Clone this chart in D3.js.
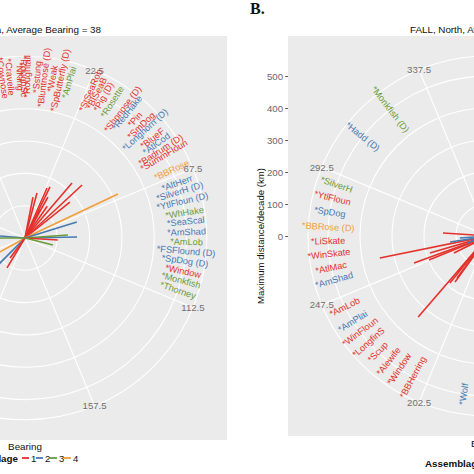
<!DOCTYPE html>
<html>
<head>
<meta charset="utf-8">
<script src="https://cdn.jsdelivr.net/npm/d3@7"></script>
<style>
body{margin:0;background:#fff}
svg{display:block;font-family:"Liberation Sans",Arial,sans-serif}
</style>
</head>
<body>
<svg id="fig" width="474" height="474"></svg>
<script>
// ---- shared scales / ticks ----
var thetaBreaks=[22.5,67.5,112.5,157.5,202.5,247.5,292.5,337.5]
var rBreaks=[0,100,200,300,400,500]
var assemblages=[1,2,3,4]
var assemblageColors=["#E4312B","#4679B2","#6B9B3A","#F29E38"]

// ---- left panel: [bearing, max distance km, assemblage] ----
var leftLines=[
  [11,129,1],[14.9,144,1],[23.7,169,1],[26.1,176,1],[29.3,145,1],
  [40.5,224,1],[47.1,241,1],[51.3,178,1],[28.2,98,1],[35,120,1],
  [64.7,318,4],[72.9,168,2],[88.9,161,2],[86,133,3],[93.5,102,1],
  [104,89,3],[241,124,4],[225,139,2],[211,108,1],[216.9,77,1],
  [274.6,140,2],[270,125,3]
]
// [label, bearing, assemblage]
var leftLabels=[
  ["*Cownose",352,1],["*Cravelle",354.6,1],["*NKing",358.2,1],["*RoughSc",359.6,1],
  ["*Roughtail",0.8,1],["*Sstung",4.3,1],["*Bluntnose (D)",6.8,1],["*Weak",9.8,1],
  ["*SpButterfly (D)",12.6,1],["*AmPlai",15.8,3],["*StSeaRob",24,1],["*BlSeaB",26.4,1],
  ["*Pig (D)",29.1,1],["*Rosette",32.7,3],["*Shpnose (D)",37.2,1],["*RedHake",39.2,2],
  ["*Pin",42.9,1],["*SmDog",46,1],["*Longhorn (D)",48,2],["*BlueF",52,1],
  ["*AtlCod",54.4,2],["*Badrum (D)",57.1,1],["*SummFloun",59.3,1],["*BBRose",65.2,4],
  ["*AltHerr",70.2,2],["*SilverH (D)",73.3,2],["*YtlFloun (D)",76.9,2],["*WhHake",81,3],
  ["*SeaScal",84.2,2],["*AmShad",87.9,2],["*AmLob",91.4,3],["*FSFlound (D)",94.7,2],
  ["*SpDog (D)",98.2,2],["*Window",101.9,1],["*Monkfish",105.2,3],["*Thorney",108.9,3]
]

// ---- right panel (FALL, North) ----
var rightLines=[
  [273.8,141,1],[258.5,345,1],[250,246,1],[247.9,199,1],[243.4,119,1],
  [253.7,189,1],[220.8,334,1],[219,189,1],[215.6,177,1],[216.4,163,1],
  [219.8,147,1],[251.6,69,2],[266,88,2],[261,120,2]
]
var rightLabels=[
  ["*Wolf",188.7,2],["*BBHerring",208,1],["*Window",213.7,1],["*Alewife",218.4,1],
  ["*Scup",223.5,1],["*LongfinS",228.3,1],["*WinFloun",233.1,1],["*AmPlai",237.7,2],
  ["*AmLob",243.6,1],["*AmShad",254,2],["*AtlMac",258.5,1],["*WinSkate",263.5,1],
  ["*LiSkate",268.2,1],["*BBRose (D)",273.2,4],["*SpDog",278.6,2],["*YtlFloun",283.7,1],
  ["*SilverH",288.7,3],["*Hadd (D)",308.4,2],["*Monkfish (D)",322.3,3]
]

var color=d3.scaleOrdinal().domain(assemblages).range(assemblageColors)
var svg=d3.select("#fig")

function rad(b){ return b*Math.PI/180 }

function drawPanel(p)
{
  var size=p.size, cx=p.cx, cy=p.cy
  var r=d3.scaleLinear().domain([0,500]).range([0,0.4*size])
  var outer=0.45*size

  svg.append("clipPath").attr("id",p.id+"clip")
    .append("rect").attr("x",cx-size/2).attr("y",cy-size/2).attr("width",size).attr("height",size)

  var g=svg.append("g").attr("clip-path","url(#"+p.id+"clip)")
  g.append("rect").attr("x",cx-size/2).attr("y",cy-size/2).attr("width",size).attr("height",size)
    .attr("fill","#EBEBEB")

  var pg=g.append("g").attr("transform","translate("+cx+","+cy+")")

  // circles for r breaks + the outer one at 0.45
  pg.selectAll("circle.grid").data(rBreaks.map(r).concat([outer])).join("circle")
    .attr("class","grid").attr("r",function(d){return d})
    .attr("fill","none").attr("stroke","#fff").attr("stroke-width",1.1)

  // spokes
  pg.selectAll("line.spoke").data(thetaBreaks).join("line")
    .attr("class","spoke")
    .attr("x1",0).attr("y1",0)
    .attr("x2",function(d){return outer*Math.sin(rad(d))})
    .attr("y2",function(d){return -outer*Math.cos(rad(d))})
    .attr("stroke","#fff").attr("stroke-width",1.1)

  // segments from origin to max distance
  var radial=d3.lineRadial().angle(function(d){return rad(d[0])}).radius(function(d){return r(d[1])})
  pg.selectAll("path.seg").data(p.lines).join("path")
    .attr("class","seg")
    .attr("d",function(d){return radial([[d[0],0],[d[0],d[1]]])})
    .attr("stroke",function(d){return color(d[2])})
    .attr("stroke-width",1.6).attr("fill","none")

  // species labels, centred at r = 500
  pg.selectAll("text.sp").data(p.labels).join("text")
    .attr("class","sp")
    .attr("transform",function(d){
      var b=d[1], x=r(500)*Math.sin(rad(b)), y=-r(500)*Math.cos(rad(b))
      var a=(b%360)<180 ? b-90 : b-270
      return "translate("+x+","+y+") rotate("+a+")"
    })
    .attr("text-anchor","middle").attr("dominant-baseline","central")
    .attr("font-size","9.2px")
    .attr("fill",function(d){return color(d[2])})
    .text(function(d){return d[0]})

  // theta tick labels
  pg.selectAll("text.th").data(thetaBreaks).join("text")
    .attr("class","th")
    .attr("x",function(d){return outer*Math.sin(rad(d))})
    .attr("y",function(d){return -outer*Math.cos(rad(d))})
    .attr("text-anchor","middle").attr("dominant-baseline","central")
    .attr("font-size","9.6px").attr("fill","#707070")
    .text(function(d){return d})

  // y axis (distance) on the left of the panel
  var yScale=d3.scaleLinear().domain([0,500]).range([cy,cy-0.4*size])
  var ax=svg.append("g").attr("transform","translate("+(cx-size/2)+",0)")
    .call(d3.axisLeft(yScale).tickValues(rBreaks).tickSize(3).tickPadding(2))
  ax.select(".domain").remove()
  ax.selectAll("line").attr("stroke","#666")
  ax.selectAll("text").attr("fill","#666").attr("font-size","9.6px")
    .attr("font-family","Liberation Sans, Arial, sans-serif")

  svg.append("text").attr("transform","translate("+(cx-size/2-24)+","+cy+") rotate(-90)")
    .attr("text-anchor","middle").attr("font-size","9.6px").attr("fill","#111")
    .text("Maximum distance/decade (km)")

  svg.append("text").attr("x",cx).attr("y",p.xTitleY)
    .attr("text-anchor","middle").attr("font-size","9.8px").attr("fill","#111")
    .text("Bearing")

  svg.append("text").attr("x",p.titleX).attr("y",33)
    .attr("text-anchor",p.titleAnchor).attr("font-size","9.8px").attr("fill","#111")
    .text(p.title)

  // legend: title then four keys
  var lg=svg.append("g").attr("transform","translate("+p.legendX+","+p.legendY+")")
  var lt=lg.append("text").attr("x",0).attr("y",3.5).attr("text-anchor",p.legendAnchor)
    .attr("font-size","9.8px").attr("font-weight","bold").attr("fill","#111")
    .text("Assemblage")
  var off=p.legendAnchor=="start" ? lt.node().getComputedTextLength() : 0
  var items=lg.selectAll("g.key").data(assemblages).join("g")
    .attr("class","key")
    .attr("transform",function(d,i){return "translate("+(off+4+i*14)+",0)"})
  items.append("line").attr("x1",0).attr("x2",7).attr("y1",0).attr("y2",0)
    .attr("stroke",function(d){return color(d)}).attr("stroke-width",1.8)
  items.append("text").attr("x",9).attr("y",3.5)
    .attr("font-size","9.6px").attr("fill","#111")
    .text(function(d){return d})
}

drawPanel({id:"left",size:404,cx:25,cy:238,lines:leftLines,labels:leftLabels,
  title:"a, Average Bearing = 38",titleX:101,titleAnchor:"end",xTitleY:450,
  legendX:18,legendY:458,legendAnchor:"end"})

drawPanel({id:"right",size:400,cx:488,cy:236,lines:rightLines,labels:rightLabels,
  title:"FALL, North, Average Bearing",titleX:410,titleAnchor:"start",xTitleY:447,
  legendX:425,legendY:463,legendAnchor:"start"})

svg.append("text").attr("x",250).attr("y",14)
  .attr("font-family","Liberation Serif, Times New Roman, serif")
  .attr("font-size","16px").attr("font-weight","bold").attr("fill","#111")
  .text("B.")
</script>
</body>
</html>
